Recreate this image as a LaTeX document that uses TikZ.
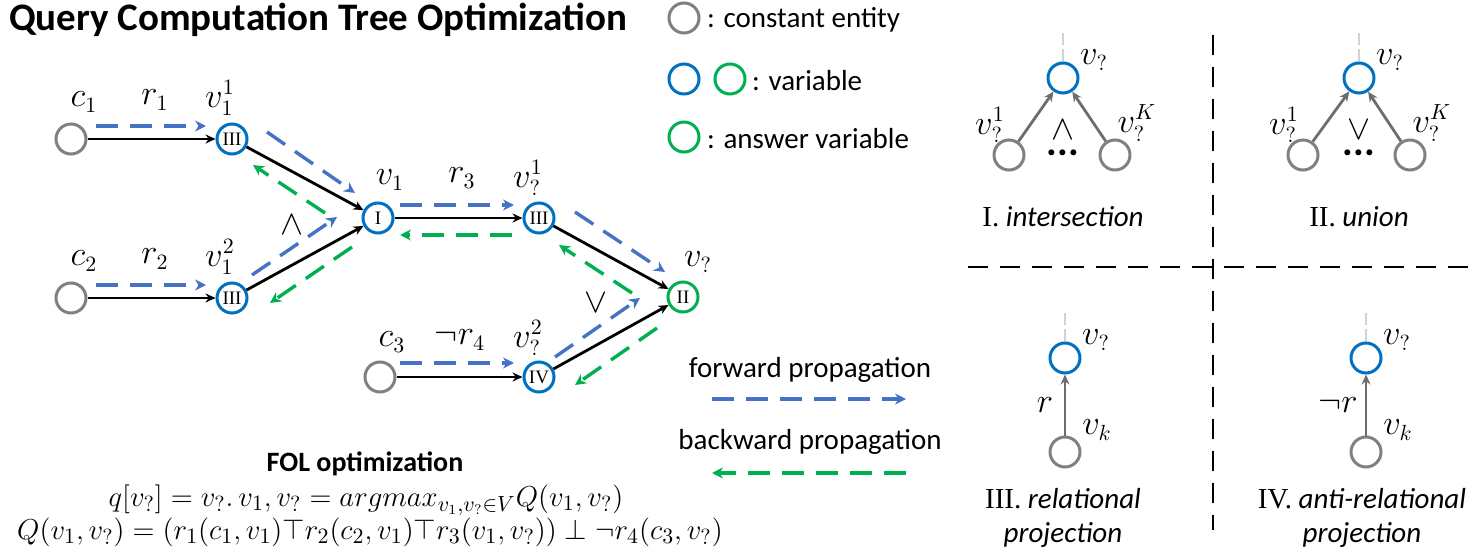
\documentclass[tikz,border=0pt]{standalone}
\usepackage{fontspec}
\setmainfont{Carlito}
\newfontfamily\rmserif{Liberation Serif}
\usetikzlibrary{arrows.meta}
\definecolor{cblue}{RGB}{0,112,192}
\definecolor{cgreen}{RGB}{0,176,80}
\definecolor{cgray}{RGB}{128,128,128}
\definecolor{fblue}{RGB}{68,114,196}
\definecolor{bgreen}{RGB}{0,176,80}
\begin{document}
\begin{tikzpicture}[x=0.5pt,y=-0.5pt,
  nd/.style={circle,line width=1.5pt,minimum size=15pt,inner sep=0pt,font=\rmserif\fontsize{9.5}{9.5}\selectfont},
  const/.style={nd,draw=cgray},
  var/.style={nd,draw=cblue},
  ans/.style={nd,draw=cgreen},
  edge/.style={line width=1.4pt,-{Stealth[length=5pt,width=4.5pt]}},
  gedge/.style={line width=1.4pt,draw=cgray!85!black,-{Stealth[length=5pt,width=4.5pt]}},
  fwd/.style={line width=1.7pt,fblue,dash pattern=on 11pt off 6pt,-{Stealth[length=5.5pt,width=5.5pt]}},
  bwd/.style={line width=1.7pt,bgreen,dash pattern=on 11pt off 6pt,-{Stealth[length=5.5pt,width=5.5pt]}},
  lbl/.style={font=\fontsize{16}{16}\selectfont},
  leg/.style={font=\fontsize{14.5}{14.5}\selectfont},
  captxt/.style={font=\fontsize{14.5}{17}\selectfont,align=center},
  op/.style={font=\fontsize{18}{18}\selectfont},
  stub/.style={gray!35,line width=1.4pt,dash pattern=on 6pt off 2pt},
  sep/.style={line width=1.4pt,dash pattern=on 10pt off 6pt}]
\useasboundingbox (0,0) rectangle (1474,556);
% title
\node[anchor=west,font=\bfseries\fontsize{19.5}{19.5}\selectfont] (title) at (2,20) {Query Computation Tree Optimization};
% legend
\node[const] (lg1) at (684,18) {};
\node[anchor=west,leg] (lt1) at (700,20) {: constant entity};
\node[var] (lg2) at (684,79) {};
\node[ans] (lg3) at (730,79) {};
\node[anchor=west,leg] (lt2) at (745,81) {: variable};
\node[ans] (lg4) at (684,137) {};
\node[anchor=west,leg] (lt3) at (700,139) {: answer variable};
% tree
\node[const] (c1) at (71,139) {};
\node[var] (a1) at (232,139) {III};
\node[const] (c2) at (71,298) {};
\node[var] (a2) at (232,298) {III};
\node[var] (i) at (378,218) {I};
\node[var] (b1) at (539,218) {III};
\node[ans] (ii) at (683,297) {II};
\node[const] (c3) at (380,377) {};
\node[var] (b2) at (539,377) {IV};
\draw[edge] (c1) -- (a1);
\draw[edge] (c2) -- (a2);
\draw[edge] (a1) -- (i);
\draw[edge] (a2) -- (i);
\draw[edge] (i) -- (b1);
\draw[edge] (b1) -- (ii);
\draw[edge] (c3) -- (b2);
\draw[edge] (b2) -- (ii);
% propagation
\coordinate (f1s) at (96,126); \coordinate (f1e) at (206,126);
\coordinate (f2s) at (96,285); \coordinate (f2e) at (206,285);
\coordinate (f3s) at (400,363); \coordinate (f3e) at (514,363);
\coordinate (f4s) at (400,205); \coordinate (f4e) at (514,205);
\coordinate (g4s) at (512,235); \coordinate (g4e) at (400,235);
\coordinate (f5s) at (267,132); \coordinate (f5e) at (355,193);
\coordinate (g5s) at (325,213); \coordinate (g5e) at (253,165);
\coordinate (f6s) at (252,275); \coordinate (f6e) at (337,217);
\coordinate (g6s) at (352,247); \coordinate (g6e) at (270,303);
\coordinate (f7s) at (575,212); \coordinate (f7e) at (665,272);
\coordinate (g7s) at (632,293); \coordinate (g7e) at (559,245);
\coordinate (f8s) at (555,357); \coordinate (f8e) at (640,298);
\coordinate (g8s) at (657,328); \coordinate (g8e) at (575,385);
\draw[fwd] (f1s) -- (f1e);
\draw[fwd] (f2s) -- (f2e);
\draw[fwd] (f3s) -- (f3e);
\draw[fwd] (f4s) -- (f4e);
\draw[bwd] (g4s) -- (g4e);
\draw[fwd] (f5s) -- (f5e);
\draw[bwd] (g5s) -- (g5e);
\draw[fwd] (f6s) -- (f6e);
\draw[bwd] (g6s) -- (g6e);
\draw[fwd] (f7s) -- (f7e);
\draw[bwd] (g7s) -- (g7e);
\draw[fwd] (f8s) -- (f8e);
\draw[bwd] (g8s) -- (g8e);
% labels
\node[lbl] (lc1) at (84,102) {$c_1$};
\node[lbl] (lr1) at (155,100) {$r_1$};
\node[lbl] (lv11) at (220,98) {$v_1^1$};
\node[lbl] (lc2) at (84,261) {$c_2$};
\node[lbl] (lr2) at (155,259) {$r_2$};
\node[lbl] (lv12) at (220,257) {$v_1^2$};
\node[lbl] (lv1) at (390,180) {$v_1$};
\node[lbl] (lr3) at (462,178) {$r_3$};
\node[lbl] (lvq1) at (528,178) {$v_?^1$};
\node[lbl] (lvq) at (698,262) {$v_?$};
\node[lbl] (lc3) at (392,342) {$c_3$};
\node[lbl] (lr4) at (460,340) {$\neg r_4$};
\node[lbl] (lvq2) at (528,338) {$v_?^2$};
\node[op] (and) at (292,225) {$\wedge$};
\node[op] (or) at (596,303) {$\vee$};
% propagation legend
\node[leg] (fl) at (810,370) {forward propagation};
\coordinate (fls) at (712,399); \coordinate (fle) at (906,399);
\draw[fwd] (fls) -- (fle);
\node[leg] (bl) at (810,442) {backward propagation};
\coordinate (bls) at (906,473); \coordinate (ble) at (712,473);
\draw[bwd] (bls) -- (ble);
% FOL
\node[font=\bfseries\fontsize{14}{14}\selectfont] (fol) at (365,464) {FOL optimization};
\node[font=\fontsize{15}{15}\selectfont] (eq1) at (366,500) {$q[v_?]=v_?.\,v_1,v_?=argmax_{v_1,v_?\in V}Q(v_1,v_?)$};
\node[font=\fontsize{15.5}{15.5}\selectfont] (eq2) at (370,532) {$Q(v_1,v_?)=(r_1(c_1,v_1)\top r_2(c_2,v_1)\top r_3(v_1,v_?))\perp\neg r_4(c_3,v_?)$};
% separators
\coordinate (vs) at (1213,35); \coordinate (ve) at (1213,530);
\coordinate (hs) at (968,267); \coordinate (he) at (1474,267);
\draw[sep] (vs) -- (ve);
\draw[sep] (hs) -- (he);
% panel I
\node[var] (p1t) at (1063,78) {};
\node[const] (p1l) at (1009,155) {};
\node[const] (p1r) at (1115,155) {};
\coordinate (p1s) at (1063,33);
\draw[stub] (p1s) -- (p1t);
\draw[gedge] (p1l) -- (p1t);
\draw[gedge] (p1r) -- (p1t);
\node[lbl] (p1lt) at (1094,60) {$v_?$};
\node[lbl] (p1ll) at (990,125) {$v_?^1$};
\node[lbl] (p1lr) at (1137,123) {$v_?^K$};
\node[op] (p1op) at (1063,130) {$\wedge$};
\node[font=\bfseries\fontsize{20}{20}\selectfont] (p1d) at (1063,153) {...};
\node[captxt] (p1c) at (1063,217) {{\rmserif I.} \textit{intersection}};
% panel II
\node[var] (p2t) at (1359,78) {};
\node[const] (p2l) at (1303,155) {};
\node[const] (p2r) at (1410,155) {};
\coordinate (p2s) at (1359,33);
\draw[stub] (p2s) -- (p2t);
\draw[gedge] (p2l) -- (p2t);
\draw[gedge] (p2r) -- (p2t);
\node[lbl] (p2lt) at (1390,60) {$v_?$};
\node[lbl] (p2ll) at (1284,125) {$v_?^1$};
\node[lbl] (p2lr) at (1432,123) {$v_?^K$};
\node[op] (p2op) at (1359,130) {$\vee$};
\node[font=\bfseries\fontsize{20}{20}\selectfont] (p2d) at (1359,153) {...};
\node[captxt] (p2c) at (1359,217) {{\rmserif II.} \textit{union}};
% panel III
\node[var] (p3t) at (1065,358) {};
\node[const] (p3b) at (1065,452) {};
\coordinate (p3s) at (1065,313);
\draw[stub] (p3s) -- (p3t);
\draw[gedge] (p3b) -- (p3t);
\node[lbl] (p3lt) at (1096,340) {$v_?$};
\node[lbl] (p3r) at (1045,405) {$r$};
\node[lbl] (p3lb) at (1097,430) {$v_k$};
\node[captxt] (p3c) at (1063,518) {{\rmserif III.} \textit{relational}\\\textit{projection}};
% panel IV
\node[var] (p4t) at (1366,358) {};
\node[const] (p4b) at (1366,452) {};
\coordinate (p4s) at (1366,313);
\draw[stub] (p4s) -- (p4t);
\draw[gedge] (p4b) -- (p4t);
\node[lbl] (p4lt) at (1397,340) {$v_?$};
\node[lbl] (p4r) at (1338,405) {$\neg r$};
\node[lbl] (p4lb) at (1398,430) {$v_k$};
\node[captxt] (p4c) at (1362,518) {{\rmserif IV.} \textit{anti-relational}\\\textit{projection}};
\end{tikzpicture}
\end{document}
